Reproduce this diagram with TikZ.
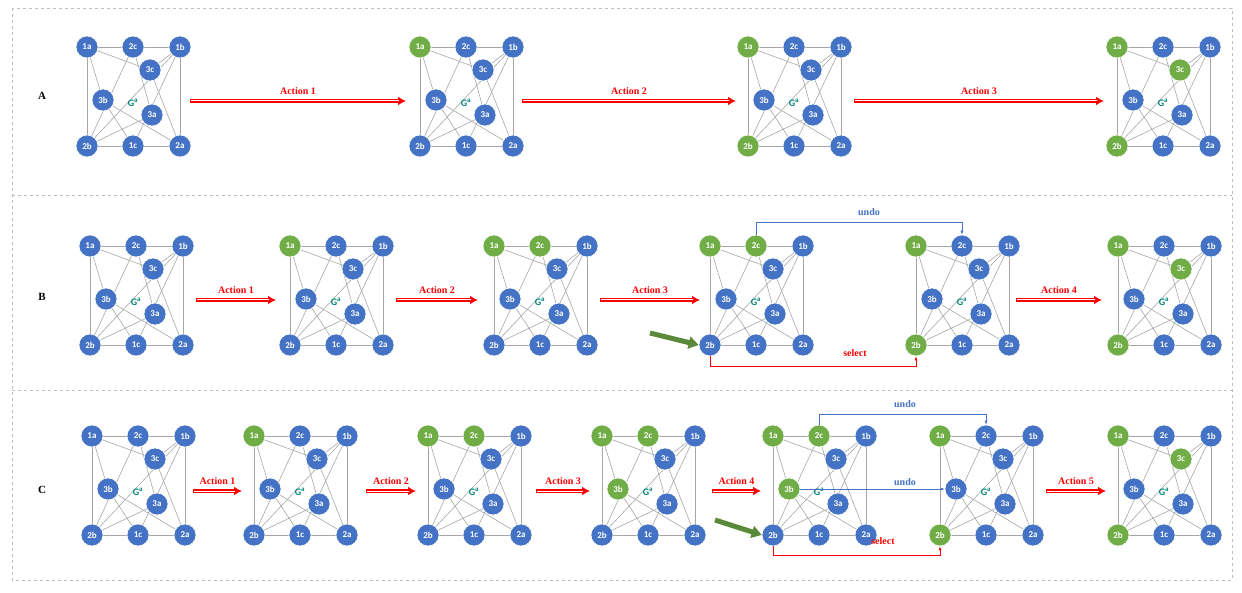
\documentclass[tikz,border=0pt]{standalone}
\usepackage{fontspec}
\setmainfont{Liberation Serif}
\newfontfamily\nf{Carlito}
\usetikzlibrary{arrows.meta,calc}
\definecolor{nblue}{RGB}{68,114,196}
\definecolor{ngreen}{RGB}{112,173,71}
\definecolor{gteal}{RGB}{0,130,120}
\tikzset{
 nd/.style={circle,fill=nblue,draw=white,line width=0.6pt,minimum size=22pt,inner sep=0pt,text=white,font=\nf\bfseries\fontsize{9}{9}\selectfont},
 gn/.style={nd,fill=ngreen},
 ed/.style={draw=gray!70,line width=0.6pt},
 acto/.style={draw=red,line width=3.4pt,-{Latex[length=8pt,width=9pt]}},
 acti/.style={draw=white,line width=1.0pt,shorten >=7pt,shorten <=0.8pt},
 albl/.style={text=red,font=\bfseries\fontsize{10}{11}\selectfont},
 ulbl/.style={text=nblue,font=\bfseries\fontsize{10}{11}\selectfont},
 undoline/.style={draw=nblue,line width=0.6pt,-{Latex[length=4pt]}},
 selline/.style={draw=red,line width=0.6pt,-{Latex[length=4pt]}},
 panel/.style={draw=gray!50,dashed,line width=0.6pt},
 garrow/.style={-{Triangle[length=10pt,width=12pt]},line width=5pt,draw=ngreen!80!black}
}
\newcommand{\Gr}[3]{%
 \coordinate (#1-1a) at (#2,#3);
 \coordinate (#1-2c) at (#2+46,#3);
 \coordinate (#1-1b) at (#2+93,#3);
 \coordinate (#1-3c) at (#2+63,#3+23);
 \coordinate (#1-3b) at (#2+16,#3+53);
 \coordinate (#1-3a) at (#2+65,#3+68);
 \coordinate (#1-2b) at (#2,#3+99);
 \coordinate (#1-1c) at (#2+46,#3+99);
 \coordinate (#1-2a) at (#2+93,#3+99);
 \foreach \a/\b in {1a/2c,2c/1b,1a/2b,1b/2a,2b/1c,1c/2a,1a/3c,1a/3b,2c/2b,2c/3a,3c/1b,3c/2a,1b/1c,1b/2b,3b/1c,3b/2a,3a/2b}
   \draw[ed] (#1-\a) -- (#1-\b);
 \foreach \n in {1a,2c,1b,3c,3b,3a,2b,1c,2a}
   \node[nd] (#1-\n) at (#1-\n) {\n};
 \node[text=gteal,font=\nf\bfseries\fontsize{10}{11}\selectfont] (#1-G) at (#2+46,#3+56) {G\textsuperscript{a}};
}
\newcommand{\Gn}[2]{\foreach \n in {#2} \node[gn] at (#1-\n) {\n};}
\newcommand{\Act}[4]{% name, start, end, label
 \draw[acto] (#2) -- (#3);
 \draw[acti] (#2) -- (#3);
 \node[albl,above=3pt] (#1) at ($(#2)!0.5!(#3)$) {#4};}
\begin{document}
\begin{tikzpicture}[x=1pt,y=-1pt]
\useasboundingbox (0,0) rectangle (1242,593);
\draw[panel] (12,8) rectangle (1232,580);
\draw[panel] (12,195) -- (1232,195);
\draw[panel] (12,390) -- (1232,390);
\foreach \l/\y in {A/96,B/297,C/490} \node[font=\bfseries\fontsize{11}{12}\selectfont] (L\l) at (42,\y) {\l};
% Row A
\Gr{a1}{87}{47}\Gr{a2}{420}{47}\Gn{a2}{1a}
\Gr{a3}{748}{47}\Gn{a3}{1a,2b}
\Gr{a4}{1117}{47}\Gn{a4}{1a,2b,3c}
\coordinate (aa1) at (190,101);\coordinate (ab1) at (406,101);
\coordinate (aa2) at (522,101);\coordinate (ab2) at (736,101);
\coordinate (aa3) at (854,101);\coordinate (ab3) at (1104,101);
\Act{al1}{aa1}{ab1}{Action 1}\Act{al2}{aa2}{ab2}{Action 2}\Act{al3}{aa3}{ab3}{Action 3}
% Row B
\Gr{b1}{90}{246}
\Gr{b2}{290}{246}\Gn{b2}{1a}
\Gr{b3}{494}{246}\Gn{b3}{1a,2c}
\Gr{b4}{710}{246}\Gn{b4}{1a,2c}
\Gr{b5}{916}{246}\Gn{b5}{1a,2b}
\Gr{b6}{1118}{246}\Gn{b6}{1a,2b,3c}
\coordinate (ba1) at (196,300);\coordinate (bb1) at (276,300);
\coordinate (ba2) at (396,300);\coordinate (bb2) at (478,300);
\coordinate (ba3) at (600,300);\coordinate (bb3) at (700,300);
\coordinate (ba4) at (1016,300);\coordinate (bb4) at (1102,300);
\Act{bl1}{ba1}{bb1}{Action 1}\Act{bl2}{ba2}{bb2}{Action 2}\Act{bl3}{ba3}{bb3}{Action 3}\Act{bl4}{ba4}{bb4}{Action 4}
\draw[undoline] (b4-2c.north) -- ++(0,-12) -| (b5-2c.north);
\node[ulbl] (bu) at (869,212) {undo};
\draw[selline] (b4-2b.south) -- ++(0,10) -| (b5-2b.south);
\node[albl] (bs) at (855,353) {select};
\coordinate (bg) at (650,333);
\draw[garrow] (bg) -- (b4-2b.west);
% Row C
\Gr{c1}{92}{436}
\Gr{c2}{254}{436}\Gn{c2}{1a}
\Gr{c3}{428}{436}\Gn{c3}{1a,2c}
\Gr{c4}{602}{436}\Gn{c4}{1a,2c,3b}
\Gr{c5}{773}{436}\Gn{c5}{1a,2c,3b}
\Gr{c6}{940}{436}\Gn{c6}{1a,2b}
\Gr{c7}{1118}{436}\Gn{c7}{1a,2b,3c}
\coordinate (ca1) at (193,491);\coordinate (cb1) at (242,491);
\coordinate (ca2) at (366,491);\coordinate (cb2) at (416,491);
\coordinate (ca3) at (536,491);\coordinate (cb3) at (590,491);
\coordinate (ca4) at (712,491);\coordinate (cb4) at (761,491);
\coordinate (ca5) at (1046,491);\coordinate (cb5) at (1106,491);
\Act{cl1}{ca1}{cb1}{Action 1}\Act{cl2}{ca2}{cb2}{Action 2}\Act{cl3}{ca3}{cb3}{Action 3}\Act{cl4}{ca4}{cb4}{Action 4}\Act{cl5}{ca5}{cb5}{Action 5}
\draw[undoline] (c5-2c.north) -- ++(0,-10) -| (c6-2c.north);
\node[ulbl] (cu) at (905,404) {undo};
\draw[undoline] (c5-3b.east) -- (c6-3b.west);
\node[ulbl] (cu2) at (905,482) {undo};
\draw[selline] (c5-2b.south) -- ++(0,9) -| (c6-2b.south);
\node[albl] (cs) at (883,541) {select};
\coordinate (cg) at (715,520);
\draw[garrow] (cg) -- (c5-2b.west);
\end{tikzpicture}
\end{document}
